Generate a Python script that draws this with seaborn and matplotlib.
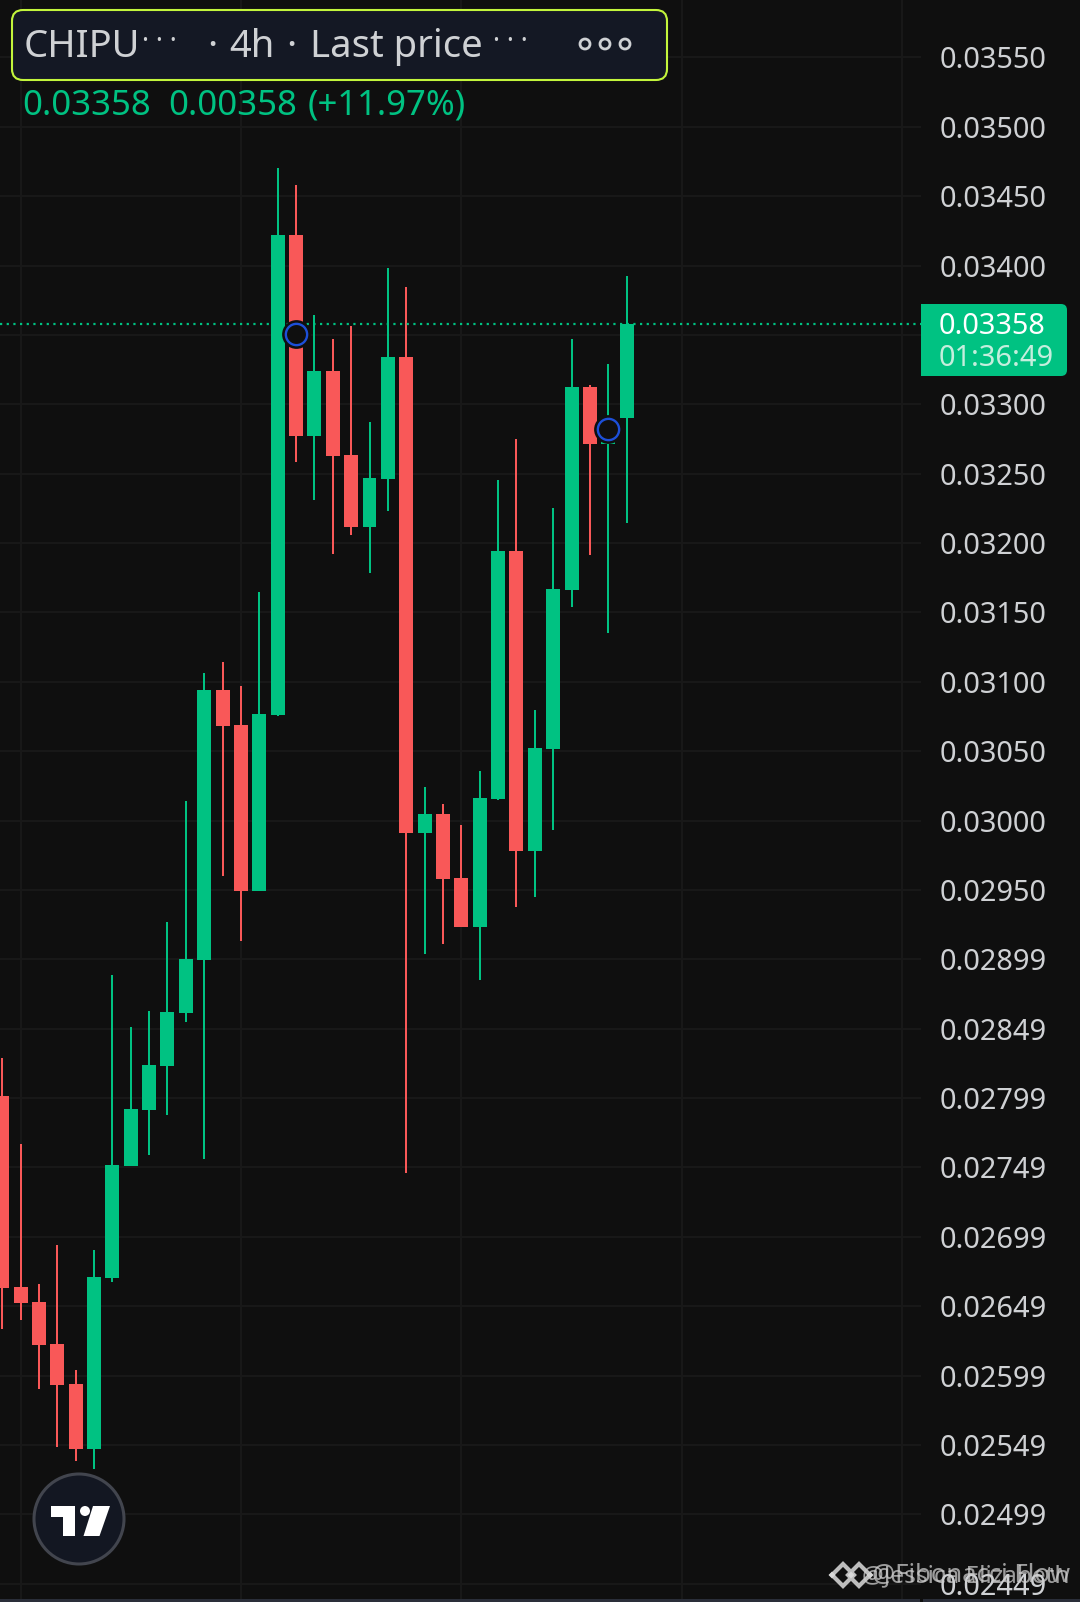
import numpy as np
import pandas as pd
import seaborn as sns
import matplotlib.pyplot as plt
from matplotlib.patches import Circle, FancyBboxPatch, Polygon, Rectangle

# Candles, oldest first
highs = [0.028289, 0.027669, 0.026660, 0.026941, 0.026040, 0.026905, 0.028887, 0.028512, 0.028627,
         0.029269, 0.030141, 0.031064, 0.031143, 0.030970, 0.031647, 0.034703, 0.034581, 0.033644,
         0.033471, 0.033565, 0.032873, 0.033983, 0.033846, 0.030242, 0.030119, 0.029968, 0.030357,
         0.032455, 0.032750, 0.030797, 0.032253, 0.033471, 0.033139, 0.033291, 0.033925]
opens = [0.028015, 0.026638, 0.026530, 0.026227, 0.025939, 0.025470, 0.026703, 0.027510, 0.027914,
         0.028231, 0.028613, 0.028995, 0.030941, 0.030689, 0.029492, 0.030761, 0.034221, 0.032772,
         0.033240, 0.032635, 0.032116, 0.032462, 0.033341, 0.029910, 0.030047, 0.029586, 0.029233,
         0.030155, 0.031943, 0.029781, 0.030516, 0.031662, 0.033125, 0.032714, 0.032902]
closes = [0.026633, 0.026523, 0.026220, 0.025932, 0.025470, 0.026710, 0.027517, 0.027921, 0.028238,
          0.028620, 0.029002, 0.030941, 0.030682, 0.029492, 0.030768, 0.034221, 0.032772, 0.033240,
          0.032628, 0.032116, 0.032469, 0.033341, 0.029910, 0.030047, 0.029579, 0.029233, 0.030163,
          0.031943, 0.029781, 0.030523, 0.031669, 0.033125, 0.032714, 0.032902, 0.033580]
lows = [0.026337, 0.026400, 0.025903, 0.025485, 0.025384, 0.025326, 0.026674, 0.027510, 0.027590,
        0.027878, 0.028548, 0.027561, 0.029600, 0.029132, 0.029492, 0.030754, 0.032585, 0.032311,
        0.031921, 0.032058, 0.031784, 0.032231, 0.027460, 0.029038, 0.029110, 0.029233, 0.028851,
        0.030148, 0.029377, 0.029449, 0.029932, 0.031539, 0.031914, 0.031352, 0.032145]

tick_values = [0.0355, 0.0350, 0.0345, 0.0340, 0.0335, 0.0330, 0.0325, 0.0320, 0.0315, 0.0310, 0.0305, 0.0300,
               0.0295, 0.0290, 0.0285, 0.0280, 0.0275, 0.0270, 0.0265, 0.0260, 0.0255, 0.0250, 0.0245]
tick_labels = ['0.03550', '0.03500', '0.03450', '0.03400', '0.03350', '0.03300', '0.03250', '0.03200',
               '0.03150', '0.03100', '0.03050', '0.03000', '0.02950', '0.02899', '0.02849', '0.02799',
               '0.02749', '0.02699', '0.02649', '0.02599', '0.02549', '0.02499', '0.02449']
tick_labels[4] = ''  # hidden behind the price tag in the original
time_grid = [1, 13, 25, 37, 49]
last_price = 0.03358
marker_idx = [16, 33]
marker_price = [0.03351, 0.03282]

BG = '#0f0f0f'
GRID = '#181818'
UP = '#00c282'
DOWN = '#f95858'
TEXT = '#cfd1d4'

sns.set_theme(style='darkgrid', rc={'axes.facecolor': BG, 'figure.facecolor': BG, 'grid.color': GRID,
                                    'grid.linewidth': 1.5, 'axes.axisbelow': True})
plt.rcParams['font.family'] = ['Noto Sans', 'DejaVu Sans']

df = pd.DataFrame({'i': np.arange(len(opens)), 'open': opens, 'close': closes, 'high': highs, 'low': lows})
df['bottom'] = df[['open', 'close']].min(axis=1)
df['body'] = (df['close'] - df['open']).abs()

fig = plt.figure(figsize=(10.8, 16.02), dpi=100)
ax = fig.add_axes([0, 0, 921 / 1080, 1])

# Wicks first, bodies over them
for is_up, color in [(True, UP), (False, DOWN)]:
    sub = df[(df['close'] >= df['open']) == is_up]
    ax.vlines(sub['i'], sub['low'], sub['high'], color=color, linewidth=1.44)
    sns.barplot(data=sub, x='i', y='body', bottom=sub['bottom'].values, native_scale=True, color=color,
                saturation=1, width=0.762, linewidth=0, errorbar=None, ax=ax, zorder=3)

ax.axhline(last_price, color=UP, linewidth=1.6, dashes=(1, 2), zorder=4)
ax.scatter(marker_idx, marker_price, s=430, color=BG, linewidth=0, zorder=5)
ax.scatter(marker_idx, marker_price, s=235, facecolor=BG, edgecolor='#1d4fd8', linewidth=1.7, zorder=6)

ax.set_xlim(-0.12, 50.03)
ax.set_ylim(0.0243677, 0.0359144)
ax.set_xticks(time_grid)
ax.set_xticklabels([])
ax.set_yticks(tick_values)
ax.set_yticklabels(tick_labels, fontsize=20.8, color=TEXT)
ax.yaxis.tick_right()
ax.tick_params(axis='y', length=0, pad=13.5)
ax.tick_params(axis='x', length=0)
ax.set_xlabel('')
ax.set_ylabel('')
sns.despine(ax=ax, left=True, bottom=True, right=True, top=True)

# Everything around the chart is placed in screen pixels on an overlay
ov = fig.add_axes([0, 0, 1, 1], facecolor='none')
ov.set_xlim(0, 1080)
ov.set_ylim(1602, 0)
ov.axis('off')

ov.add_patch(FancyBboxPatch((12, 10), 655, 70, boxstyle='round,pad=0,rounding_size=11',
                            facecolor='#141824', edgecolor='#c3f53c', linewidth=1.5))
ov.text(24, 47, 'CHIPU', fontsize=27.5, color=TEXT, va='center')
ov.text(142, 42, '· · ·', fontsize=19, color=TEXT, va='center')
ov.text(207, 47, '·', fontsize=27.5, color=TEXT, va='center')
ov.text(229, 47, '4h', fontsize=27.5, color=TEXT, va='center')
ov.text(286, 47, '·', fontsize=27.5, color=TEXT, va='center')
ov.text(310, 47, 'Last price', fontsize=27.5, color=TEXT, va='center')
ov.text(493, 42, '· · ·', fontsize=19, color=TEXT, va='center')
for cx in [585, 605, 625]:
    ov.add_patch(Circle((cx, 44), 5, facecolor='none', edgecolor=TEXT, linewidth=2.0))

ov.text(22, 106, '0.03358', fontsize=25, color=UP, va='center')
ov.text(168, 106, '0.00358', fontsize=25, color=UP, va='center')
ov.text(308, 106, '(+11.97%)', fontsize=25, color=UP, va='center')

# Last price tag
ov.add_patch(FancyBboxPatch((921, 304), 146, 72, boxstyle='round,pad=0,rounding_size=6',
                            facecolor=UP, edgecolor='none'))
ov.add_patch(Rectangle((921, 304), 20, 72, facecolor=UP, edgecolor='none'))
ov.text(939, 327, '0.03358', fontsize=20.8, color='white', va='center')
ov.text(939, 358, '01:36:49', fontsize=20.8, color='#c4eedd', va='center')

# TradingView badge
ov.add_patch(Circle((79, 1519), 45, facecolor='#131722', edgecolor='#42454e', linewidth=2.2))
ov.add_patch(Polygon([(51, 1506), (75, 1506), (75, 1536), (63, 1536), (63, 1517), (51, 1517)],
                     facecolor='white', edgecolor='none'))
ov.add_patch(Circle((85, 1511), 5, facecolor='white', edgecolor='none'))
ov.add_patch(Polygon([(93, 1506), (110, 1506), (99.5, 1536), (83.5, 1536)], facecolor='white', edgecolor='none'))

# Bottom edge of the screenshot
ov.add_patch(Rectangle((0, 1599), 920, 3, facecolor='#2a2e39', edgecolor='none'))
ov.add_patch(Rectangle((923, 1599), 157, 3, facecolor='#2a2e39', edgecolor='none'))

# Watermarks, two of them laid over each other
for cx, cy in [(843, 1575), (859, 1575)]:
    ov.add_patch(Polygon([(cx, cy - 11), (cx + 11, cy), (cx, cy + 11), (cx - 11, cy)], facecolor='none',
                         edgecolor='#bdbdbd', linewidth=3.0))
for cx in [832, 851, 870]:
    ov.add_patch(Polygon([(cx, 1571.5), (cx + 3.5, 1575), (cx, 1578.5), (cx - 3.5, 1575)], facecolor='#d8d8d8',
                         edgecolor='none'))
ov.text(1070, 1576, '@Jessica Elizabeth', fontsize=17.5, color='#cdcdcd', alpha=0.75, ha='right', va='center')
ov.text(1070, 1576, '@Fibonacci Flow', fontsize=18.5, color='#cdcdcd', alpha=0.75, ha='right', va='center')

fig.savefig('out.png', dpi=100, facecolor=BG)
